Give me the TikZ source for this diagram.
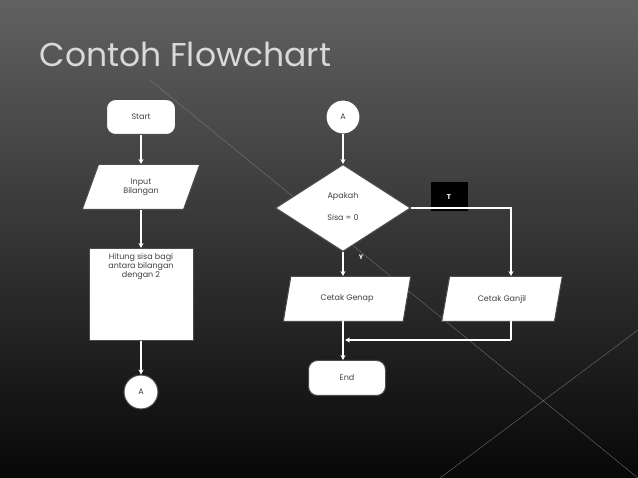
\documentclass[tikz,border=0pt]{standalone}
\usepackage{fontspec}
\setmainfont{Poppins}
\usetikzlibrary{shapes.geometric,arrows.meta}
\begin{document}
\begin{tikzpicture}[x=1pt,y=-1pt,
  box/.style={draw=black!70,line width=1pt,fill=white,text=black!75,font=\fontsize{8}{9}\selectfont,inner sep=0pt},
  con/.style={draw=white,line width=1.2pt,-{Stealth[length=5pt,width=5pt]}},
  ln/.style={draw=white,line width=1.2pt}]
\shade[top color=black!62,bottom color=black!97] (0,0) rectangle (638,478);
\useasboundingbox (0,0) rectangle (638,478);
\draw[black!50,line width=0.3pt] (150,80) -- (638,478);
\draw[black!50,line width=0.3pt] (440,478) -- (638,330);
\node[anchor=west,text=black!15,font=\fontsize{33}{36}\selectfont] (title) at (36,54) {Contoh Flowchart};
% left column
\node[box,rounded corners=9pt,minimum width=69pt,minimum height=35pt] (start) at (141,117) {Start};
\node[box,trapezium,trapezium left angle=68,trapezium right angle=112,minimum width=118pt,minimum height=45pt,trapezium stretches=true,align=center] (input) at (141,187) {Input\\Bilangan};
\node[box,minimum width=104pt,minimum height=92pt,anchor=north] (hitung) at (141,248) {};
\node[box,draw=none,fill=none,anchor=north,align=center,font=\fontsize{8}{9}\selectfont] (htext) at (141,253) {Hitung sisa bagi\\antara bilangan\\dengan 2};
\node[box,circle,minimum size=34pt] (a1) at (141,392) {A};
\draw[con] (start) -- (input);
\draw[con] (input) -- (hitung);
\draw[con] (hitung) -- (a1);
% right column
\node[box,circle,minimum size=34pt] (a2) at (343,117) {A};
\node[box,diamond,minimum width=135pt,minimum height=87pt,aspect=1.55] (dec) at (343,208) {};
\node[box,draw=none,fill=none] (dtext1) at (343,197) {Apakah};
\node[box,draw=none,fill=none] (dtext2) at (343,217) {Sisa = 0};
\node[fill=black,text=white,minimum width=37pt,minimum height=29pt,inner sep=0pt,font=\fontsize{7}{8}\selectfont\bfseries] (tlab) at (449,197) {T};
\node[box,trapezium,trapezium left angle=66,trapezium right angle=114,minimum width=128pt,minimum height=45pt,trapezium stretches=true] (genap) at (347,299) {Cetak Genap};
\node[box,trapezium,trapezium left angle=66,trapezium right angle=114,minimum width=121pt,minimum height=45pt,trapezium stretches=true] (ganjil) at (502,299) {Cetak Ganjil};
\node[box,rounded corners=9pt,minimum width=77pt,minimum height=35pt] (end) at (347,378) {End};
\node[text=white,font=\fontsize{6.5}{8}\selectfont\bfseries] (ylab) at (361,257) {Y};
\coordinate (c1) at (511,208);
\coordinate (c2) at (511,340);
\coordinate (c3) at (345,340);
\draw[con] (a2) -- (dec);
\draw[con] (dec.south) -- (343,276);
\draw[con] (dec.east) -- (c1) -- (511,276);
\draw[con] (343,321) -- (343,360);
\draw[ln] (511,321) -- (c2);
\draw[con] (c2) -- (c3);
\end{tikzpicture}
\end{document}
